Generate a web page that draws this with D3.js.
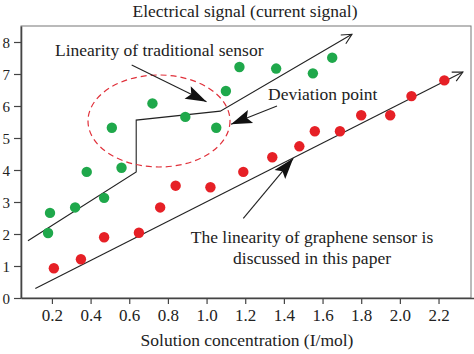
<!DOCTYPE html>
<html>
<head>
<meta charset="utf-8">
<script src="https://cdn.jsdelivr.net/npm/d3@7"></script>
<style>
  body { margin: 0; background: #fff; }
  svg { display: block; font-family: "Liberation Serif", "DejaVu Serif", serif; }
</style>
</head>
<body>
<svg id="chart" width="474" height="354"></svg>
<script>
const greenX = [0.18, 0.19, 0.32, 0.47, 0.38, 0.56, 0.51, 0.72, 0.89, 1.05, 1.10, 1.17, 1.36, 1.55, 1.65];
const greenY = [2.03, 2.66, 2.83, 3.13, 3.94, 4.07, 5.32, 6.08, 5.66, 5.32, 6.47, 7.22, 7.17, 7.02, 7.51];
const redX = [0.21, 0.35, 0.47, 0.65, 0.76, 0.84, 1.02, 1.19, 1.34, 1.48, 1.56, 1.69, 1.80, 1.95, 2.06, 2.23];
const redY = [0.93, 1.21, 1.90, 2.04, 2.83, 3.51, 3.46, 3.94, 4.40, 4.74, 5.21, 5.21, 5.71, 5.71, 6.31, 6.80];
const xTicks = [0.2, 0.4, 0.6, 0.8, 1.0, 1.2, 1.4, 1.6, 1.8, 2.0, 2.2];
const yTicks = [0, 1, 2, 3, 4, 5, 6, 7, 8];

// fit lines (data space)
const tradLine = [[0.076, 1.79], [0.636, 3.94], [0.636, 5.56], [1.071, 5.84], [1.752, 8.24]];
const grapheneLine = [[0.114, 0.30], [2.326, 7.06]];

let svg = d3.select('#chart');

let margin = { left: 21, right: 2, top: 26, bottom: 56 };
let width = 474, height = 354;

let x = d3.scaleLinear()
  .domain([0.04, 2.4])
  .range([margin.left, margin.left + 2.36 * 193.3]);

let y = d3.scaleLinear()
  .domain([0, 8.5])
  .range([height - margin.bottom, margin.top]);

let defs = svg.append('defs');
defs.append('marker')
  .attr('id', 'open')
  .attr('markerUnits', 'userSpaceOnUse')
  .attr('markerWidth', 20).attr('markerHeight', 20)
  .attr('refX', 0).attr('refY', 0)
  .attr('viewBox', '-12 -10 14 20')
  .attr('orient', 'auto')
  .append('path')
  .attr('d', 'M-10,-5L0,0L-10,5')
  .attr('fill', 'none')
  .attr('stroke', '#222')
  .attr('stroke-width', 1.1);

defs.append('marker')
  .attr('id', 'solid')
  .attr('markerUnits', 'userSpaceOnUse')
  .attr('markerWidth', 24).attr('markerHeight', 24)
  .attr('refX', 0).attr('refY', 0)
  .attr('viewBox', '-22 -12 24 24')
  .attr('orient', 'auto')
  .append('path')
  .attr('d', 'M0,0L-21,-7L-17,0L-21,7Z')
  .attr('fill', '#111');

// frame
svg.append('rect')
  .attr('x', margin.left).attr('y', margin.top)
  .attr('width', 471 - margin.left)
  .attr('height', y(0) - margin.top)
  .attr('fill', 'none')
  .attr('stroke', '#777')
  .attr('stroke-width', 1);

let xAxis = d3.axisBottom(x)
  .tickValues(xTicks)
  .tickFormat(d3.format('.1f'))
  .tickSize(6)
  .tickSizeOuter(0);

let yAxis = d3.axisLeft(y)
  .tickValues(yTicks)
  .tickSize(7)
  .tickSizeOuter(0);

let gx = svg.append('g')
  .attr('transform', `translate(0,${y(0)})`)
  .call(xAxis);

let gy = svg.append('g')
  .attr('transform', `translate(${margin.left},0)`)
  .call(yAxis);

[gx, gy].forEach(g => {
  g.select('.domain').attr('stroke', '#444').attr('stroke-width', 1.6);
  g.selectAll('.tick line').attr('stroke', '#444').attr('stroke-width', 1.2);
  g.selectAll('.tick text')
    .attr('fill', '#222')
    .style('font-family', '"Liberation Serif", serif')
    .style('font-size', '17px');
});
gx.selectAll('.tick text').attr('dy', '0.85em');
gy.selectAll('.tick text').attr('x', -11).attr('dy', '0.35em').style('font-size', '15px');

// fit lines
let line = d3.line().x(d => x(d[0])).y(d => y(d[1]));

svg.append('path')
  .datum(tradLine)
  .attr('d', line)
  .attr('fill', 'none')
  .attr('stroke', '#222')
  .attr('stroke-width', 1.1)
  .attr('marker-end', 'url(#open)');

svg.append('path')
  .datum(grapheneLine)
  .attr('d', line)
  .attr('fill', 'none')
  .attr('stroke', '#222')
  .attr('stroke-width', 1.1)
  .attr('marker-end', 'url(#open)');

// deviation ellipse
svg.append('ellipse')
  .attr('cx', 159).attr('cy', 121)
  .attr('rx', 71).attr('ry', 46)
  .attr('fill', 'none')
  .attr('stroke', '#e0303a')
  .attr('stroke-width', 1.2)
  .attr('stroke-dasharray', '6,4');

// points
svg.append('g')
  .attr('fill', '#1fa84b')
  .selectAll('circle').data(greenX).enter().append('circle')
  .attr('cx', d => x(d))
  .attr('cy', (d, i) => y(greenY[i]))
  .attr('r', 5.2);

svg.append('g')
  .attr('fill', '#e62026')
  .selectAll('circle').data(redX).enter().append('circle')
  .attr('cx', d => x(d))
  .attr('cy', (d, i) => y(redY[i]))
  .attr('r', 5.2);

// annotation arrows
let arrows = [
  [[131.7, 65], [206.5, 101.7]],
  [[277, 106], [231, 124.3]],
  [[243.3, 218.3], [293.3, 158.3]]
];
svg.append('g').selectAll('path').data(arrows).enter().append('path')
  .attr('d', d => `M${d[0][0]},${d[0][1]}L${d[1][0]},${d[1][1]}`)
  .attr('stroke', '#222')
  .attr('stroke-width', 1.1)
  .attr('marker-end', 'url(#solid)');

// texts
let txt = (s, tx, ty, size, anchor) => svg.append('text')
  .attr('x', tx).attr('y', ty)
  .attr('text-anchor', anchor || 'middle')
  .attr('fill', '#222')
  .style('font-size', size + 'px')
  .text(s);

txt('Electrical signal (current signal)', 245, 16.5, 17.5);
txt('Solution concentration (I/mol)', 247, 346, 17.5);
txt('Linearity of traditional sensor', 55, 56, 17.5, 'start');
txt('Deviation point', 268, 100, 17.5, 'start');
txt('The linearity of graphene sensor is', 312, 243, 17.5);
txt('discussed in this paper', 312, 264, 17.5);
</script>
</body>
</html>
